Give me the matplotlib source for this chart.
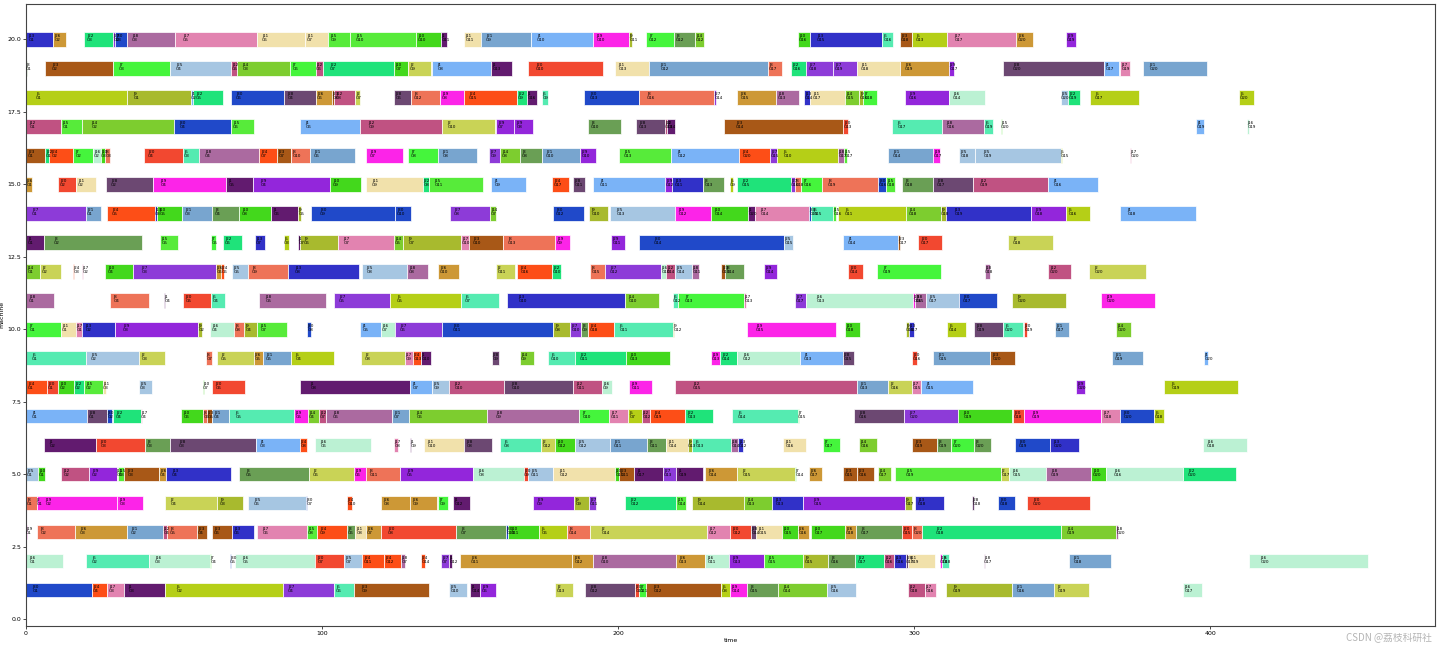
import matplotlib
matplotlib.use('Agg')
import matplotlib.pyplot as plt

# each machine: (job, operation, start, end)
m20 = [(13,1,0,9.2),(26,2,9.2,13.7),(22,3,19.7,29.5),(27,2,29.5,30.0),(30,3,30.0,34.3),(18,3,34.3,50.3),(17,5,50.3,78.2),(11,6,78.2,94.1),(11,7,94.1,102.1),(15,9,102.1,109.3),(15,10,109.3,131.6),(10,10,131.6,140.2),(1,11,140.2,142.2),(11,11,147.9,153.7),(21,9,153.7,170.6),(4,10,170.6,191.4),(19,10,191.4,203.8),(9,11,203.8,204.7),(7,12,209.4,218.9),(3,12,218.9,226.0),(14,12,226.0,229.1),(10,16,260.6,264.8),(13,15,264.8,289.2),(6,16,289.2,292.9),(23,18,295.1,299.4),(5,13,299.4,311.2),(17,17,311.2,334.5),(26,20,334.5,340.0),(29,19,351.3,354.7)]
m19 = [(3,1,0,0.4),(23,2,6.6,29.5),(7,3,29.5,48.6),(25,4,48.6,69.4),(12,5,69.4,71.3),(14,3,71.3,89.1),(7,6,89.1,97.8),(12,6,97.8,100.3),(22,7,100.3,124.3),(10,7,124.3,129.0),(2,9,129.0,136.9),(4,8,137.1,156.9),(1,13,156.9,164.1),(20,10,169.7,194.8),(11,13,199.0,210.3),(21,12,210.3,250.5),(8,17,250.5,255.3),(22,16,258.3,263.5),(27,18,263.5,272.4),(27,19,272.4,280.6),(11,18,280.6,295.2),(26,19,295.2,311.8),(29,17,311.8,313.5),(28,20,330.0,364.0),(4,17,364.0,369.3),(17,19,369.6,373.0),(21,20,377.3,398.9)]
m18 = [(5,1,0,34.2),(9,1,34.2,55.6),(4,2,55.6,56.5),(22,5,56.5,66.4),(30,6,69.1,87.2),(28,4,87.2,97.8),(26,6,97.8,103.4),(23,8,103.4,104.0),(12,8,104.0,111.3),(2,7,111.3,112.9),(28,6,124.3,130.1),(8,12,130.1,139.7),(19,8,139.7,147.9),(24,15,147.9,165.8),(22,9,165.8,169.1),(1,16,169.1,172.5),(6,9,174.2,176.2),(30,13,188.6,207.2),(8,16,207.2,232.5),(27,14,232.5,233.0),(26,15,240.0,253.3),(18,13,253.3,261.0),(13,14,262.9,264.7),(11,17,264.7,276.5),(14,15,276.5,281.5),(9,16,281.5,282.8),(7,18,282.8,287.3),(29,16,296.8,311.8),(16,14,311.8,323.9),(25,20,349.4,351.9),(22,19,351.9,356.1),(5,17,359.5,375.8),(5,20,409.6,414.6)]
m17 = [(12,1,0,11.7),(15,1,11.7,19.0),(14,2,19.0,49.9),(30,4,49.9,69.1),(15,6,69.1,77.0),(4,6,92.4,112.9),(12,9,112.9,140.6),(2,10,140.6,158.5),(29,7,158.8,165.0),(29,8,165.0,171.2),(3,10,189.7,201.0),(28,13,206.0,215.8),(12,13,215.8,216.4),(1,14,216.4,219.2),(23,14,235.8,276.1),(20,13,276.1,277.8),(6,17,292.6,309.5),(18,16,309.5,323.6),(6,19,323.6,326.6),(15,20,329.2,329.6),(4,19,395.3,397.8),(16,19,412.5,413.0)]
m16 = [(23,1,0,6.6),(22,1,6.6,7.8),(24,2,7.8,16.0),(7,2,16.0,22.7),(16,2,22.7,25.2),(10,3,25.2,26.7),(8,3,26.7,28.3),(20,4,39.9,52.9),(6,3,52.9,58.5),(18,4,58.5,78.7),(24,7,78.7,84.8),(23,7,84.8,89.4),(8,10,89.4,95.8),(21,6,95.8,111.3),(19,7,114.9,127.5),(7,8,129.0,139.3),(21,8,139.3,152.4),(27,9,156.5,160.1),(14,8,160.1,166.7),(3,8,166.7,174.3),(21,10,174.3,187.1),(29,10,187.1,192.5),(15,13,200.2,217.8),(4,12,217.8,240.9),(24,20,240.9,251.3),(27,15,251.3,253.8),(5,10,253.8,274.3),(18,17,274.3,276.3),(15,17,276.3,277.2),(21,14,291.3,306.5),(19,17,306.5,308.6),(25,18,315.1,320.5),(25,19,320.5,349.4),(5,15,349.4,350.0),(17,20,373.0,373.3)]
m15 = [(26,1,0,2.1),(20,2,10.9,16.9),(11,2,16.9,23.6),(28,2,27.2,43.0),(19,4,43.0,67.5),(1,5,67.5,76.7),(29,4,76.7,102.6),(10,9,102.6,113.2),(11,9,114.9,134.0),(22,8,134.0,136.1),(15,11,136.1,154.5),(4,9,157.1,168.9),(24,17,177.7,183.3),(28,11,184.9,188.9),(4,11,191.4,215.9),(29,12,215.9,218.2),(13,11,218.2,228.5),(3,13,228.5,235.6),(5,9,237.7,238.9),(22,15,240.0,258.3),(27,16,258.3,259.7),(8,18,259.7,261.9),(7,16,261.9,269.0),(8,19,269.0,287.9),(30,16,287.9,290.6),(15,18,290.6,293.4),(3,18,295.8,306.4),(28,17,306.4,319.7),(12,19,319.7,345.3),(4,16,345.3,362.0)]
m14 = [(27,1,0,20.2),(21,1,20.2,25.2),(24,5,27.4,43.5),(13,3,43.5,44.3),(10,5,44.3,52.7),(21,3,52.7,62.9),(3,4,62.9,71.9),(10,8,71.9,82.7),(1,6,82.7,91.9),(9,5,91.9,93.0),(30,9,96.4,124.8),(30,10,124.8,129.9),(27,8,143.3,156.8),(14,7,156.8,158.8),(30,12,177.9,188.4),(9,10,190.3,196.7),(25,13,197.3,219.2),(19,12,219.2,231.3),(10,14,231.3,243.7),(1,20,243.7,246.2),(17,14,246.2,264.5),(30,15,264.5,265.3),(6,15,265.3,272.6),(15,16,272.6,273.5),(5,11,274.3,297.1),(14,18,297.1,308.9),(9,18,308.9,310.8),(13,19,310.8,339.6),(29,18,339.6,351.3),(5,16,351.3,359.5),(4,18,369.5,395.2)]
m13 = [(1,1,0,6.2),(3,2,6.2,39.2),(15,5,45.2,51.4),(7,5,62.4,64.3),(22,6,66.6,73.0),(13,7,77.3,80.9),(5,3,87.0,88.8),(1,7,91.9,92.7),(9,6,92.7,105.4),(17,7,105.4,124.3),(14,5,124.3,127.3),(9,7,127.3,147.0),(17,10,147.0,149.8),(23,10,149.8,161.0),(8,13,161.0,178.8),(19,9,178.8,183.8),(29,11,197.7,202.2),(30,14,207.2,255.9),(25,15,255.9,258.9),(4,14,275.8,294.6),(23,17,294.6,295.2),(20,17,301.4,309.5),(2,18,331.8,346.8)]
m12 = [(14,1,0,4.7),(2,2,4.7,11.8),(24,3,16.0,16.4),(17,2,19.0,19.3),(10,4,26.7,36.2),(27,3,36.2,64.1),(26,6,64.1,66.0),(24,6,66.0,66.9),(25,5,69.6,75.0),(8,9,75.0,88.5),(13,8,88.5,112.5),(25,8,113.5,128.7),(18,8,128.7,135.7),(26,10,139.1,146.4),(2,11,158.6,165.3),(24,16,165.8,177.7),(22,10,177.7,180.7),(8,15,190.5,195.4),(27,12,195.4,214.5),(16,10,214.5,216.2),(12,14,216.2,219.2),(25,14,219.2,224.8),(18,11,224.8,227.4),(23,13,234.9,236.0),(3,14,236.0,242.4),(29,14,249.3,253.5),(20,14,277.8,282.8),(7,19,287.3,308.9),(18,18,323.8,325.6),(12,20,345.1,352.8),(2,20,359.0,378.4)]
m11 = [(18,1,0,9.6),(8,4,28.3,41.6),(1,4,46.7,47.1),(20,5,52.9,62.6),(6,4,62.6,67.1),(18,5,78.6,101.4),(27,5,103.9,123.0),(5,5,123.0,147.0),(6,7,147.0,159.9),(13,10,162.4,202.4),(14,10,202.4,213.9),(6,12,218.4,220.3),(7,13,220.3,242.6),(17,13,242.6,243.1),(27,17,259.7,263.4),(16,13,263.4,299.7),(19,16,299.7,300.3),(18,15,300.3,303.9),(25,17,303.9,315.1),(30,17,315.1,328.0),(9,20,333.1,351.1),(19,20,363.2,381.3)]
m10 = [(7,1,0,11.7),(11,1,11.7,16.9),(17,1,16.9,19.0),(13,2,19.0,30.0),(29,3,30.0,58.1),(9,2,58.1,59.6),(16,4,62.1,70.3),(8,8,70.3,73.7),(9,4,73.7,78.2),(15,7,78.2,88.2),(30,8,94.9,96.2),(4,5,112.9,119.8),(16,7,119.8,124.7),(27,6,124.7,140.5),(30,11,140.5,178.1),(9,8,178.1,183.8),(27,10,183.8,187.5),(3,9,187.5,189.7),(24,18,189.7,198.5),(6,11,198.5,218.6),(9,12,218.6,219.0),(19,15,243.5,273.7),(10,18,276.5,281.6),(9,16,297.1,298.2),(13,17,298.2,299.9),(5,14,311.2,317.4),(28,19,320.1,330.0),(6,20,330.0,336.7),(20,19,337.1,338.0),(21,17,347.4,352.4),(14,20,368.2,373.3)]
m9 = [(6,1,0,20.2),(25,2,20.2,38.2),(2,3,38.2,47.1),(8,7,60.7,62.9),(2,5,64.6,76.9),(26,5,76.9,80.1),(21,5,80.1,89.6),(5,4,89.6,104.0),(2,8,113.0,127.9),(17,9,127.9,130.7),(24,13,130.7,133.3),(1,10,133.3,136.9),(28,9,157.3,159.6),(14,9,166.7,171.5),(6,10,176.4,185.4),(22,11,185.4,202.6),(10,13,202.6,217.5),(19,13,231.3,234.5),(22,14,234.5,240.0),(16,12,240.0,261.4),(4,13,261.4,275.8),(28,15,275.8,279.5),(20,16,299.4,301.1),(21,15,306.3,325.6),(23,20,325.6,334.2),(21,19,366.8,377.2),(4,20,397.9,399.2)]
m8 = [(24,1,0,7.0),(20,1,7.0,10.9),(10,2,10.9,16.2),(22,2,16.2,19.6),(15,2,19.6,25.9),(11,3,25.9,27.2),(25,3,38.1,42.7),(10,7,59.8,60.2),(20,6,62.9,74.1),(1,8,92.4,129.8),(4,7,129.8,137.1),(25,9,137.1,142.8),(12,10,142.8,161.6),(28,10,161.6,184.9),(12,11,184.9,194.6),(16,9,194.6,197.8),(19,11,203.8,211.3),(12,15,219.2,280.6),(21,13,280.6,291.2),(2,16,291.2,299.1),(17,15,299.1,302.2),(4,15,302.2,320.0),(29,20,354.8,357.8),(5,19,384.3,409.4)]
m7 = [(4,1,0,20.7),(28,1,20.7,27.4),(30,2,27.4,29.1),(22,4,29.5,38.8),(17,4,38.8,39.2),(10,6,52.5,59.8),(8,6,59.8,61.2),(23,5,61.2,62.9),(21,4,62.9,68.6),(6,5,68.6,90.5),(19,5,90.5,95.2),(14,4,95.2,99.0),(12,7,99.0,101.4),(18,6,101.4,123.7),(21,7,123.7,129.3),(14,6,129.3,155.6),(18,9,155.6,186.9),(7,10,186.9,197.0),(17,11,197.0,203.4),(5,7,203.4,207.9),(12,12,207.9,210.9),(24,19,210.9,222.5),(22,13,222.5,232.1),(6,14,238.3,260.7),(7,15,260.7,261.0),(28,16,279.6,296.6),(27,20,296.6,314.9),(10,19,314.9,333.1),(20,18,333.3,337.1),(19,19,337.1,363.2),(17,18,363.2,369.6),(30,20,369.6,380.9),(5,18,380.9,384.3)]
m6 = [(1,2,6.2,23.6),(20,3,23.6,40.1),(3,3,40.1,48.8),(28,3,48.8,77.6),(4,3,77.6,92.4),(24,8,92.4,94.9),(16,6,97.5,116.6),(17,8,124.3,125.7),(1,9,129.8,130.1),(11,10,134.3,147.8),(28,8,147.8,157.3),(6,8,160.1,174.0),(2,12,174.0,178.8),(10,12,178.8,185.4),(25,12,185.4,197.3),(21,11,197.3,209.9),(3,11,209.9,216.2),(11,14,216.2,223.5),(9,13,223.5,224.8),(6,13,224.8,238.1),(18,14,238.1,240.6),(13,12,240.6,242.3),(11,16,255.7,263.4),(7,17,269.2,275.0),(14,16,281.2,287.3),(23,19,299.4,307.8),(3,19,307.8,312.3),(7,20,312.3,320.1),(3,20,320.1,325.8),(30,19,334.2,346.0),(13,20,346.0,355.8),(16,18,397.4,412.4)]
m5 = [(25,1,0,4.2),(10,1,4.2,6.6),(12,2,11.7,21.4),(29,2,21.4,30.6),(11,4,30.6,31.2),(15,3,31.2,33.1),(23,3,33.1,45.0),(26,4,45.0,47.2),(13,4,47.2,69.2),(3,5,72.0,95.5),(2,6,95.5,110.7),(19,6,110.7,114.9),(8,11,114.9,126.2),(29,5,126.2,151.1),(16,8,151.1,168.1),(20,9,168.1,169.7),(25,11,169.7,178.1),(11,12,178.1,199.0),(10,11,199.0,200.2),(23,11,200.2,205.5),(1,17,205.5,215.0),(27,13,215.0,219.5),(1,19,219.5,228.7),(26,14,229.4,240.0),(2,15,240.0,259.8),(7,14,259.8,260.0),(26,17,264.3,268.7),(23,15,276.1,280.6),(23,16,280.6,286.4),(14,17,287.6,292.3),(15,19,293.6,329.2),(2,17,329.2,332.0),(16,15,332.0,344.6),(18,19,344.6,359.8),(10,20,359.8,364.9),(16,16,364.9,390.7),(22,20,390.7,408.5)]
m4 = [(8,1,0,3.6),(2,1,3.6,3.9),(19,2,3.9,30.8),(19,3,30.8,39.6),(2,4,47.1,64.6),(9,3,64.6,73.3),(25,6,75.0,94.7),(30,7,94.7,95.0),(24,10,108.5,110.1),(26,8,119.8,129.6),(26,9,129.6,138.9),(7,9,139.3,142.7),(1,12,144.2,150.1),(29,9,171.2,185.0),(9,9,185.0,190.3),(27,11,190.3,192.5),(22,12,202.4,219.7),(15,14,219.7,222.9),(9,14,225.1,242.6),(14,13,242.6,252.1),(13,13,252.1,262.6),(29,15,262.6,296.8),(9,17,296.8,299.4),(13,18,300.2,310.2),(28,18,319.6,320.1),(30,18,328.3,334.2),(20,20,338.0,359.5)]
m3 = [(19,1,0,0.4),(8,2,3.6,16.5),(26,3,16.5,34.2),(21,2,34.2,46.3),(12,4,46.3,47.7),(8,5,47.7,57.8),(23,4,57.8,61.3),(23,6,62.9,69.6),(13,6,69.6,77.0),(17,6,78.2,94.9),(15,8,94.9,98.3),(24,9,98.3,108.4),(3,6,108.4,111.3),(11,8,111.3,114.7),(26,7,114.7,119.8),(20,8,119.8,145.3),(3,7,145.3,162.2),(30,10,162.2,162.7),(10,11,162.7,173.2),(5,6,173.2,182.6),(8,14,182.6,190.5),(2,14,190.5,229.9),(17,12,229.9,237.9),(20,12,237.9,244.8),(28,14,244.8,246.5),(11,15,246.5,255.3),(10,15,255.3,260.6),(26,16,260.6,264.3),(10,17,265.1,276.5),(26,18,276.5,280.5),(3,17,280.5,295.8),(20,15,295.8,299.4),(8,20,299.4,302.7),(22,18,302.7,349.7),(14,19,349.7,368.2),(18,20,368.2,368.8)]
m2 = [(16,1,0,12.6),(6,2,20.2,41.5),(16,3,41.5,62.3),(7,4,62.3,62.5),(30,5,68.8,69.2),(16,5,70.5,97.5),(20,7,97.5,107.3),(25,7,107.3,113.5),(24,11,113.5,120.9),(24,12,120.9,126.7),(18,7,126.7,128.1),(24,14,133.5,134.9),(27,7,140.2,143.0),(1,12,143.0,143.9),(26,11,146.6,184.5),(26,12,184.5,191.4),(18,10,191.4,219.5),(26,13,219.5,229.3),(16,11,229.3,237.5),(29,13,237.5,249.3),(15,15,249.3,262.3),(9,15,262.3,271.0),(3,16,271.0,280.0),(22,17,280.0,289.8),(12,16,289.8,293.2),(13,16,293.2,297.1),(28,17,297.1,297.9),(11,19,297.9,306.9),(19,18,308.6,309.5),(6,18,309.5,311.8),(18,17,323.6,323.9),(21,18,352.4,366.6),(16,20,413.0,453.2)]
m1 = [(30,1,0,22.2),(24,4,22.2,27.4),(17,3,27.4,33.2),(1,3,33.2,46.9),(5,2,46.9,86.8),(27,4,86.8,104.0),(6,6,104.0,110.8),(23,9,110.8,136.1),(25,10,142.8,149.0),(1,14,150.1,153.5),(29,6,153.5,158.8),(2,13,178.8,184.9),(28,12,188.8,205.8),(20,11,205.8,207.2),(7,11,207.2,209.4),(23,12,209.4,234.7),(5,8,234.7,237.7),(19,14,237.7,243.4),(3,15,243.4,254.0),(14,14,254.0,270.7),(25,16,270.7,280.2),(12,18,297.9,303.5),(17,16,303.5,307.2),(9,19,310.8,333.1),(21,16,333.1,347.2),(2,19,347.2,359.0),(16,17,390.7,397.2)]

schedule = {1: m1, 2: m2, 3: m3, 4: m4, 5: m5, 6: m6, 7: m7, 8: m8, 9: m9, 10: m10,
            11: m11, 12: m12, 13: m13, 14: m14, 15: m15, 16: m16, 17: m17, 18: m18, 19: m19, 20: m20}

job_colors = ['#621b6f', '#c9d356', '#6a9f55', '#7ab3f7', '#b5cf17', '#55ebb1', '#45f53c', '#ee7358',
              '#a8ba2e', '#43d81c', '#f1e1ab', '#c05282', '#3131c8', '#7dcd2f', '#57eb3a', '#bbf1d3',
              '#e283b0', '#ab6aa0', '#fc24e8', '#f24830', '#78a5cf', '#1fe37a', '#a85817', '#fd4e17',
              '#a6c6e2', '#cd9836', '#8d3bd8', '#6c4872', '#9326db', '#2049c9']

fig = plt.figure(figsize=(14.4, 6.47), dpi=100)
ax = fig.add_axes([0.018, 0.033, 0.9785, 0.961])

for machine, ops in schedule.items():
    for job, op, start, end in ops:
        dur = end - start
        ax.barh(machine, dur, left=start, height=0.5, color=job_colors[job - 1],
                edgecolor='white', linewidth=0.5)
        ax.text(start + dur * 0.1, machine + 0.04, 'J%d\nO%d' % (job, op),
                fontsize=3, ha='left', va='center', linespacing=1.1)

ax.set_xlabel('time', fontsize=4.5, labelpad=2)
ax.set_ylabel('machine', fontsize=4.5, labelpad=2)
ax.tick_params(labelsize=4.5, length=2, width=0.5, pad=1.5)
for sp in ax.spines.values():
    sp.set_linewidth(0.8)
    sp.set_color('#444444')

fig.text(0.9944, 0.016, 'CSDN @荔枝科研社', ha='right', va='center', fontsize=7,
         color='#b5b5b5', family=['Noto Sans CJK SC', 'DejaVu Sans'])

fig.savefig('out.png', dpi=100)
